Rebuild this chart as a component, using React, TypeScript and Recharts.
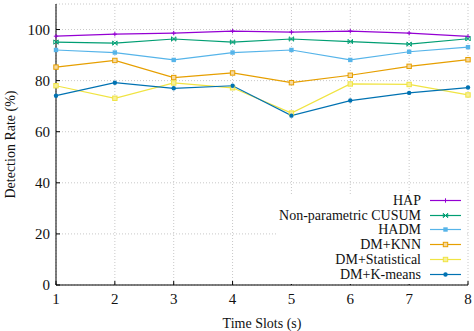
import { CartesianGrid, Line, LineChart, XAxis, YAxis } from "recharts";

const slots = [1, 2, 3, 4, 5, 6, 7, 8];
const hap = [97.4, 98.2, 98.6, 99.4, 99.0, 99.4, 98.6, 97.3];
const cusum = [95.1, 94.7, 96.3, 95.1, 96.3, 95.3, 94.3, 96.4];
const hadm = [92.0, 91.0, 88.1, 91.0, 92.0, 88.1, 91.3, 93.1];
const knn = [85.3, 87.9, 81.2, 83.0, 79.2, 82.1, 85.6, 88.2];
const statistical = [78.0, 73.1, 79.1, 77.2, 67.3, 78.7, 78.5, 74.4];
const kmeans = [74.1, 79.2, 77.0, 78.0, 66.3, 72.2, 75.2, 77.3];
const yTicks = [0, 20, 40, 60, 80, 100];

const FONT = "'Liberation Serif', 'Times New Roman', serif";

type Mark = "plus" | "cross" | "fsquare" | "osquare" | "lsquare" | "circle";

const SERIES: { key: string; name: string; color: string; mark: Mark; values: number[] }[] = [
  { key: "hap", name: "HAP", color: "#9400d3", mark: "plus", values: hap },
  { key: "cusum", name: "Non-parametric CUSUM", color: "#009e73", mark: "cross", values: cusum },
  { key: "hadm", name: "HADM", color: "#56b4e9", mark: "fsquare", values: hadm },
  { key: "knn", name: "DM+KNN", color: "#e69f00", mark: "osquare", values: knn },
  { key: "stat", name: "DM+Statistical", color: "#f0e442", mark: "lsquare", values: statistical },
  { key: "kmeans", name: "DM+K-means", color: "#0072b2", mark: "circle", values: kmeans },
];

const data = slots.map((t, i) => {
  const row: any = { t };
  SERIES.forEach((s) => (row[s.key] = s.values[i]));
  return row;
});

function Marker({ cx, cy, color, mark }: { cx: number; cy: number; color: string; mark: Mark }) {
  const r = 2.2;
  switch (mark) {
    case "plus":
      return (
        <g stroke={color} strokeWidth={1}>
          <line x1={cx - r} y1={cy} x2={cx + r} y2={cy} />
          <line x1={cx} y1={cy - r} x2={cx} y2={cy + r} />
        </g>
      );
    case "cross":
      return (
        <g stroke={color} strokeWidth={1}>
          <line x1={cx - r} y1={cy - r} x2={cx + r} y2={cy + r} />
          <line x1={cx - r} y1={cy + r} x2={cx + r} y2={cy - r} />
          <line x1={cx - r} y1={cy - r} x2={cx - r} y2={cy + r} />
          <line x1={cx + r} y1={cy - r} x2={cx + r} y2={cy + r} />
        </g>
      );
    case "fsquare":
      return <rect x={cx - r} y={cy - r} width={2 * r} height={2 * r} fill={color} />;
    case "osquare":
      return <rect x={cx - r} y={cy - r} width={2 * r} height={2 * r} fill="#f6d9a0" stroke={color} strokeWidth={1} />;
    case "lsquare":
      return <rect x={cx - r} y={cy - r} width={2 * r} height={2 * r} fill="#f7ef9a" stroke={color} strokeWidth={1} />;
    default:
      return <circle cx={cx} cy={cy} r={r} fill={color} />;
  }
}

function XTick({ x, y, payload }: any) {
  return (
    <text x={x} y={y} dy="0.71em" textAnchor="middle" fontFamily={FONT} fontSize={15} fill="#111">
      {payload.value}
    </text>
  );
}

function YTick({ x, y, payload }: any) {
  return (
    <text x={x} y={y} dy="0.35em" textAnchor="end" fontFamily={FONT} fontSize={15} fill="#111">
      {payload.value}
    </text>
  );
}

function LegendBox() {
  return (
    <div
      style={{
        position: "absolute",
        left: 278,
        top: 194,
        width: 189,
        height: 90,
        background: "#fff",
        fontFamily: FONT,
        fontSize: 14,
        color: "#111",
      }}
    >
      {SERIES.map((s, i) => (
        <div
          key={s.key}
          style={{ position: "absolute", right: 0, top: i * 14.7 - 1, height: 15, display: "flex", alignItems: "center", whiteSpace: "nowrap" }}
        >
          <span style={{ lineHeight: "15px" }}>{s.name}</span>
          <svg width={44} height={15} style={{ marginLeft: 2 }}>
            <line x1={7} y1={7.5} x2={38} y2={7.5} stroke={s.color} strokeWidth={1.2} />
            <Marker cx={22.5} cy={7.5} color={s.color} mark={s.mark} />
          </svg>
        </div>
      ))}
    </div>
  );
}

export default function App() {
  return (
    <div style={{ position: "absolute", left: 0, top: 0, width: 474, height: 331, background: "#fff" }}>
      <LineChart width={474} height={331} data={data} margin={{ top: 4, right: 6, bottom: 0, left: 0 }}>
        <CartesianGrid stroke="#c8c8c8" strokeDasharray="1 2" xAxisId="bottom" yAxisId="left" />
        <XAxis
          xAxisId="bottom"
          dataKey="t"
          type="number"
          domain={[1, 8]}
          ticks={slots}
          height={46}
          axisLine={{ stroke: "#000" }}
          tickLine={{ stroke: "#000" }}
          tickSize={-4}
          tickMargin={12}
          tick={<XTick />}
          label={{ value: "Time Slots (s)", position: "insideBottom", offset: 3, style: { fontFamily: FONT, fontSize: 14, fill: "#111" } }}
        />
        <XAxis
          xAxisId="top"
          orientation="top"
          dataKey="t"
          type="number"
          domain={[1, 8]}
          ticks={slots}
          height={0}
          axisLine={{ stroke: "#000" }}
          tickLine={{ stroke: "#000" }}
          tickSize={-4}
          tick={false}
        />
        <YAxis
          yAxisId="left"
          domain={[0, 110]}
          ticks={yTicks}
          width={56}
          axisLine={{ stroke: "#000" }}
          tickLine={{ stroke: "#000" }}
          tickSize={-4}
          tickMargin={10}
          tick={<YTick />}
          label={{ value: "Detection Rate (%)", angle: -90, position: "insideLeft", offset: 10, style: { textAnchor: "middle", fontFamily: FONT, fontSize: 14, fill: "#111" } }}
        />
        <YAxis
          yAxisId="right"
          orientation="right"
          domain={[0, 110]}
          ticks={yTicks}
          width={0}
          axisLine={{ stroke: "#000" }}
          tickLine={{ stroke: "#000" }}
          tickSize={-4}
          tick={false}
        />
        {SERIES.map((s) => (
          <Line
            key={s.key}
            xAxisId="bottom"
            yAxisId="left"
            type="linear"
            dataKey={s.key}
            name={s.name}
            stroke={s.color}
            strokeWidth={1.2}
            isAnimationActive={false}
            dot={(p: any) => <Marker key={`${s.key}-${p.index}`} cx={p.cx} cy={p.cy} color={s.color} mark={s.mark} />}
            activeDot={false}
          />
        ))}
      </LineChart>
      <LegendBox />
    </div>
  );
}
